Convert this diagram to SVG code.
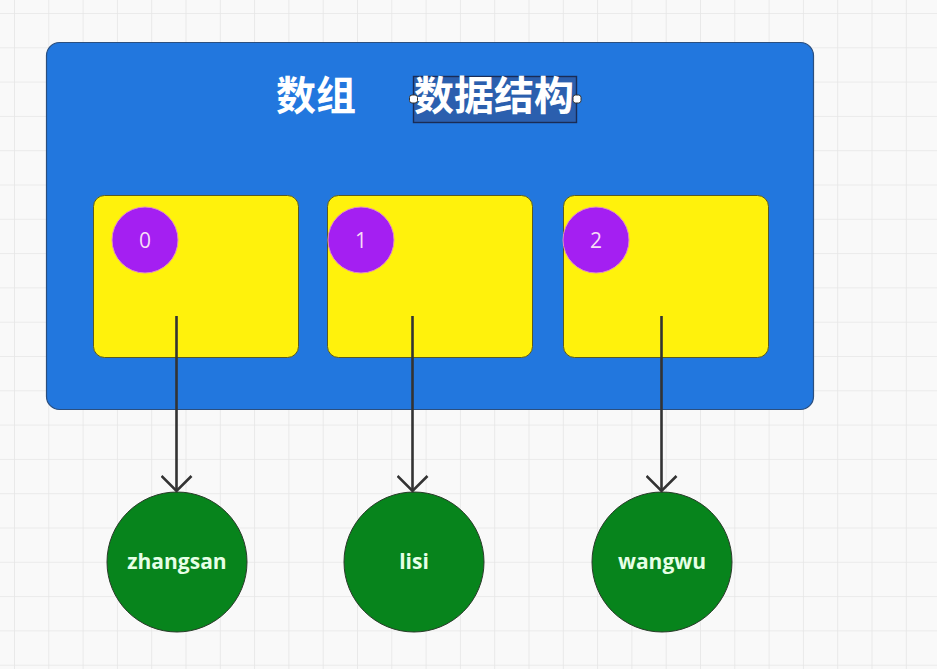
<svg xmlns="http://www.w3.org/2000/svg" width="937" height="669" viewBox="0 0 937 669">
  <defs>
    <pattern id="grid" x="14" y="13" width="34.3" height="34.3" patternUnits="userSpaceOnUse">
      <path d="M0 0 H34.3 M0 0 V34.3" fill="none" stroke="#e6e6e6" stroke-width="1.6"/>
    </pattern>
    <marker id="chev" viewBox="0 0 20 32" refX="17" refY="16" markerWidth="20" markerHeight="32" markerUnits="userSpaceOnUse" orient="auto">
      <path d="M2 1 L17 16 L2 31" fill="none" stroke="#333" stroke-width="2.6" stroke-linejoin="miter"/>
    </marker>
    <style>
      .slot { fill: #fff20c; stroke: #5a5a20; stroke-width: 1; }
      .idx { fill: #a41ff2; stroke: #e090c0; stroke-width: 1; }
      .idx-t { fill: #f6dcf6; font-family: "Open Sans", "Liberation Sans", sans-serif; font-size: 21px; text-anchor: middle; }
      .val { fill: #07841c; stroke: #2a3a2a; stroke-width: 1; }
      .val-t { fill: #e6ffe6; font-family: "Open Sans", "Liberation Sans", sans-serif; font-weight: bold; font-size: 21px; text-anchor: middle; }
      .title { fill: #ffffff; font-family: "Noto Sans CJK SC", "Noto Sans", sans-serif; font-weight: bold; font-size: 40px; }
      .link { stroke: #333; stroke-width: 2.6; fill: none; }
    </style>
  </defs>

  <!-- canvas with grid -->
  <rect width="937" height="669" fill="#f9f9f9"/>
  <rect width="937" height="669" fill="url(#grid)"/>

  <!-- array container -->
  <g id="array">
    <rect x="46.5" y="42.5" width="767" height="367" rx="13" fill="#2277de" stroke="#2b4f7f" stroke-width="1.2"/>
    <text class="title" x="276" y="110">数组</text>
    <rect x="413.5" y="76.5" width="163" height="46" fill="#2b5fae" stroke="#1a2c55" stroke-width="1.4"/>
    <text class="title" x="414" y="110">数据结构</text>
    <rect x="409.5" y="95" width="8" height="8" rx="2.5" fill="#ffffff" stroke="#333" stroke-width="1"/>
    <rect x="573" y="95" width="8" height="8" rx="2.5" fill="#ffffff" stroke="#333" stroke-width="1"/>
  </g>

  <!-- slots -->
  <g id="slot-0">
    <rect class="slot" x="93.5" y="195.5" width="205" height="162" rx="11"/>
    <circle class="idx" cx="145" cy="240" r="33"/>
    <text class="idx-t" x="145" y="248">0</text>
  </g>
  <g id="slot-1">
    <rect class="slot" x="327.5" y="195.5" width="205" height="162" rx="11"/>
    <circle class="idx" cx="361" cy="240" r="33"/>
    <text class="idx-t" x="361" y="248">1</text>
  </g>
  <g id="slot-2">
    <rect class="slot" x="563.5" y="195.5" width="205" height="162" rx="11"/>
    <circle class="idx" cx="596" cy="240" r="33"/>
    <text class="idx-t" x="596" y="248">2</text>
  </g>

  <!-- values -->
  <g id="value-zhangsan">
    <circle class="val" cx="177" cy="562" r="70"/>
    <text class="val-t" x="177" y="569">zhangsan</text>
  </g>
  <g id="value-lisi">
    <circle class="val" cx="414" cy="562" r="70"/>
    <text class="val-t" x="414" y="569">lisi</text>
  </g>
  <g id="value-wangwu">
    <circle class="val" cx="662" cy="562" r="70"/>
    <text class="val-t" x="662" y="569">wangwu</text>
  </g>

  <!-- references from slots to values -->
  <g id="connectors">
    <line class="link" x1="176.5" y1="316" x2="176.5" y2="491" marker-end="url(#chev)"/>
    <line class="link" x1="412.5" y1="316" x2="412.5" y2="491" marker-end="url(#chev)"/>
    <line class="link" x1="661.5" y1="316" x2="661.5" y2="491" marker-end="url(#chev)"/>
  </g>
</svg>
